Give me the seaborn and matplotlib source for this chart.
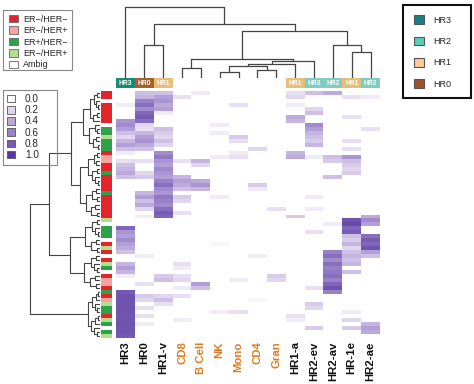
import matplotlib
matplotlib.use("Agg")
import numpy as np
import pandas as pd
import seaborn as sns
import matplotlib.pyplot as plt
from matplotlib.colors import LinearSegmentedColormap, ListedColormap
from matplotlib.patches import Patch, Rectangle

sns.set_theme(style="white")
plt.rcParams["font.family"] = ["Liberation Sans", "DejaVu Sans"]

# ---------------- data ----------------
col_labels = ["HR3", "HR0", "HR1-v", "CD8", "B Cell", "NK", "Mono", "CD4", "Gran",
              "HR1-a", "HR2-ev", "HR2-av", "HR-1e", "HR2-ae"]
immune_cols = ["CD8", "B Cell", "NK", "Mono", "CD4", "Gran"]
col_groups = ["HR3", "HR0", "HR1", None, None, None, None, None, None,
              "HR1", "HR2", "HR2", "HR1", "HR2"]

n_rows = 62
# subtype per row: R=ER-/HER-, P=ER-/HER+, G=ER+/HER-, L=ER-/HER+ (light), W=Ambig
row_subtype = list("RRWRRRRRWGGLGGGRPPRRGRRRRGRRRRRRLWGGGWRLRWRLGWRPPRGRPLGGRLGWGL")

hr3 = {3: .1, 7: .5, 8: .55, 9: .45, 10: .3, 11: .2, 12: .35, 13: .45, 14: .3, 15: .1,
       17: .15, 18: .3, 19: .35, 20: .4, 21: .3, 34: .75, 35: .5, 36: .45, 37: .55,
       38: .45, 39: .4, 40: .3, 43: .35, 44: .45, 45: .35, 46: .1, 50: .82, 51: .85,
       52: .85, 53: .84, 54: .86, 55: .85, 56: .83, 57: .85, 58: .86, 59: .84, 60: .85, 61: .82}
hr0 = {0: .3, 1: .35, 2: .6, 3: .7, 4: .55, 5: .75, 6: .8, 7: .7, 8: .2, 9: .15, 10: .35,
       11: .45, 12: .5, 13: .4, 14: .3, 17: .15, 20: .2, 21: .25, 25: .35, 26: .45, 27: .3,
       28: .4, 29: .2, 31: .1, 41: .1, 48: .15, 51: .25, 52: .2, 54: .15, 56: .15, 58: .1}
hr1_v = {0: .3, 1: .45, 2: .5, 3: .4, 4: .45, 5: .1, 9: .3, 10: .25, 11: .2, 12: .3, 13: .2,
         15: .55, 16: .65, 17: .5, 18: .45, 19: .55, 20: .5, 21: .45, 22: .6, 23: .7, 24: .55,
         25: .5, 26: .65, 27: .6, 28: .55, 29: .7, 30: .8, 31: .75, 46: .25, 47: .3,
         51: .2, 52: .3, 53: .15}
cd8 = {1: .15, 17: .15, 21: .35, 22: .45, 23: .4, 24: .3, 26: .25, 27: .2, 30: .15,
       43: .15, 44: .1, 46: .15, 47: .2, 49: .1, 51: .15, 57: .1}
bcell = {0: .1, 17: .35, 18: .2, 22: .4, 23: .5, 24: .35, 48: .45, 49: .3}
nk = {8: .1, 10: .1, 16: .1, 26: .1, 38: .05, 55: .1}
mono = {3: .15, 11: .25, 12: .15, 15: .1, 16: .15, 47: .1, 55: .15}
cd4 = {14: .2, 23: .25, 24: .1, 41: .1, 52: .05}
gran = {29: .15, 46: .25, 47: .2}
hr1_a = {0: .15, 1: .2, 3: .1, 6: .4, 7: .35, 15: .35, 16: .4, 31: .25, 56: .15, 57: .1}
hr2_ev = {0: .3, 4: .2, 5: .3, 8: .55, 9: .45, 10: .35, 11: .3, 12: .25, 13: .35, 16: .1,
          26: .1, 29: .1, 35: .15, 49: .15, 53: .25, 54: .2, 59: .25}
hr2_av = {0: .4, 16: .3, 17: .25, 21: .3, 33: .1, 40: .6, 41: .7, 42: .55, 43: .7, 44: .6,
          45: .65, 46: .7, 47: .6, 48: .75, 49: .85, 50: .6}
hr_1e = {1: .15, 6: .15, 12: .15, 14: .15, 16: .5, 17: .3, 18: .25, 19: .2, 20: .25,
         32: .85, 33: .9, 34: .75, 35: .8, 36: .3, 37: .25, 38: .35, 39: .2, 40: .3,
         41: .35, 42: .3, 43: .35, 45: .3, 55: .1, 57: .2, 59: .25}
hr2_ae = {1: .1, 9: .15, 31: .4, 32: .55, 33: .45, 36: .7, 37: .8, 38: .75, 39: .85,
          40: .45, 41: .3, 58: .35, 59: .45, 60: .4}
columns_data = [hr3, hr0, hr1_v, cd8, bcell, nk, mono, cd4, gran, hr1_a, hr2_ev, hr2_av, hr_1e, hr2_ae]

# dendrogram trees: (height, left, right), leaves are indices
col_tree = (71, 0, (54, (33, 1, 2),
                    (47, (19, (10, 3, 4), (17, (14, (12, (6, 5, 6), (8, 7, 8)), 9), 10)),
                     (33, 11, (26, 12, 13)))))
T_A = (10, (6, (3, 0, 1), (4, 2, (2, 3, 4))), (7, (3, 5, 6), 7))
T_B = (11, (5, 8, (3, 9, 10)), (7, (4, 11, 12), (2, 13, 14)))
T_C = (20, (12, (6, (3, 15, 16), (4, 17, 18)), (8, (3, 19, 20), (5, 21, (2, 22, 23)))),
       (14, (8, (4, 24, 25), (3, 26, 27)), (9, (5, 28, 29), (3, 30, 31))))
T_D = (15, (8, (3, 32, 33), (5, 34, (2, 35, 36))), (9, (4, 37, 38), (3, 39, 40)))
T_E = (16, (9, (4, 41, 42), (6, 43, (3, 44, 45))), (10, (5, 46, 47), (4, 48, 49)))
T_L = (12, (8, (4, (2, 50, 51), 52), (5, 53, (3, 54, 55))),
       (9, (5, (2, 56, 57), 58), (6, 59, (3, 60, 61))))
row_tree = (70, (51, (29, (17, T_A, T_B), T_C), (30, T_D, T_E)), T_L)

subtype_names = ["ER\u2212/HER\u2212", "ER\u2212/HER+", "ER+/HER\u2212", "ER\u2212/HER+", "Ambig"]
subtype_codes = {"R": 0, "P": 1, "G": 2, "L": 3, "W": 4}
subtype_colors = ["#e3242b", "#f5a3a3", "#2ca24a", "#b5dd8f", "#ffffff"]
value_levels = [0.0, 0.2, 0.4, 0.6, 0.8, 1.0]
hr_legend = ["HR3", "HR2", "HR1", "HR0"]
hr_legend_colors = ["#1a7d86", "#5ccdb8", "#fcc99a", "#a0522d"]
hr_bar_colors = {"HR3": "#1b8a72", "HR0": "#a5622b", "HR1": "#e6bf78", "HR2": "#7fcdc0"}

# ---------------- build ----------------
mat = np.zeros((n_rows, len(col_labels)))
for j, d in enumerate(columns_data):
    for r, v in d.items():
        mat[r, j] = v
df = pd.DataFrame(mat, columns=col_labels)

W, H = 474, 384
fig = plt.figure(figsize=(W / 100, H / 100), dpi=100)


def ax_px(x0, y0, x1, y1):
    return fig.add_axes([x0 / W, 1 - y1 / H, (x1 - x0) / W, (y1 - y0) / H])


def frame_px(x0, y0, x1, y1, color, lw):
    fig.patches.append(Rectangle((x0 / W, 1 - y1 / H), (x1 - x0) / W, (y1 - y0) / H,
                                 transform=fig.transFigure, fill=False,
                                 edgecolor=color, lw=lw, zorder=5))


cmap = LinearSegmentedColormap.from_list(
    "wp", [(0, "#ffffff"), (0.2, "#e0d6ee"), (0.5, "#aa94d2"), (1.0, "#5737a0")])
HM = (116, 91, 380, 338)
ax_hm = ax_px(*HM)
sns.heatmap(df, ax=ax_hm, cmap=cmap, vmin=0, vmax=1, cbar=False,
            xticklabels=col_labels, yticklabels=False)
ax_hm.tick_params(axis="x", length=0, pad=2.5)
for t in ax_hm.get_xticklabels():
    t.set_rotation(90)
    t.set_fontsize(8.2)
    t.set_fontweight("bold")
    t.set_color("#e07b20" if t.get_text() in immune_cols else "#111111")

# row subtype strip
ax_rc = ax_px(101, HM[1], 112, HM[3])
codes = np.array([subtype_codes[s] for s in row_subtype]).reshape(-1, 1)
sns.heatmap(codes, ax=ax_rc, cmap=ListedColormap(subtype_colors), vmin=-0.5, vmax=4.5,
            cbar=False, xticklabels=False, yticklabels=False)

# column group bar
ax_cc = ax_px(HM[0], 78, HM[2], 88)
gcodes = np.array([[np.nan if g is None else ["HR3", "HR0", "HR1", "HR2"].index(g)
                    for g in col_groups]])
sns.heatmap(gcodes, ax=ax_cc, mask=np.isnan(gcodes),
            cmap=ListedColormap([hr_bar_colors[k] for k in ["HR3", "HR0", "HR1", "HR2"]]),
            vmin=-0.5, vmax=3.5, cbar=False, xticklabels=False, yticklabels=False)
for i, g in enumerate(col_groups):
    if g is not None:
        ax_cc.text(i + 0.5, 0.55, g, color="white", fontsize=4.8, fontweight="bold",
                   ha="center", va="center")


def dendro_segments(node, segs):
    if isinstance(node, int):
        return node + 0.5, 0.0
    h, a, b = node
    pa, ha = dendro_segments(a, segs)
    pb, hb = dendro_segments(b, segs)
    segs.append(([pa, pa, pb, pb], [ha, h, h, hb]))
    return (pa + pb) / 2, h


# column dendrogram
ax_cd = ax_px(HM[0], 6, HM[2], 78)
segs = []
dendro_segments(col_tree, segs)
for xs, hs in segs:
    ax_cd.plot(xs, hs, color="#444444", lw=0.9, solid_capstyle="butt")
ax_cd.set_xlim(0, len(col_labels))
ax_cd.set_ylim(0, 72)
ax_cd.axis("off")

# row dendrogram
ax_rd = ax_px(29, HM[1], 100, HM[3])
segs = []
dendro_segments(row_tree, segs)
for ys, hs in segs:
    ax_rd.plot(hs, ys, color="#444444", lw=0.8, solid_capstyle="butt")
ax_rd.set_ylim(n_rows, 0)
ax_rd.set_xlim(71, 0)
ax_rd.axis("off")

# legends
h1 = [Patch(facecolor=c, edgecolor="#666666", lw=0.6) for c in subtype_colors]
fig.legend(h1, subtype_names, loc="upper left", bbox_to_anchor=(6 / W, 1 - 12 / H),
           fontsize=6.5, frameon=False, handlelength=1.0, handleheight=0.9,
           handletextpad=0.6, labelspacing=0.27, borderpad=0.3, borderaxespad=0)
frame_px(3, 10, 72, 70, "#888888", 0.8)

h2 = [Patch(facecolor=cmap(v), edgecolor="#555555", lw=0.6) for v in value_levels]
fig.legend(h2, [f"{v:.1f}" for v in value_levels], loc="upper left",
           bbox_to_anchor=(4 / W, 1 - 91 / H), fontsize=7.2, frameon=False,
           handlelength=0.8, handleheight=0.8, handletextpad=1.0,
           labelspacing=0.12, borderpad=0.3, borderaxespad=0)
frame_px(3, 90, 57, 165, "#888888", 0.8)

h3 = [Patch(facecolor=c, edgecolor="#555555", lw=0.8) for c in hr_legend_colors]
fig.legend(h3, hr_legend, loc="upper left", bbox_to_anchor=(409 / W, 1 - 10 / H),
           fontsize=6.5, frameon=False, handlelength=1.1, handleheight=1.1,
           handletextpad=1.0, labelspacing=1.32, borderpad=0.6, borderaxespad=0)
frame_px(403, 5, 471, 98, "#111111", 1.5)

fig.savefig("out.png", dpi=100)
